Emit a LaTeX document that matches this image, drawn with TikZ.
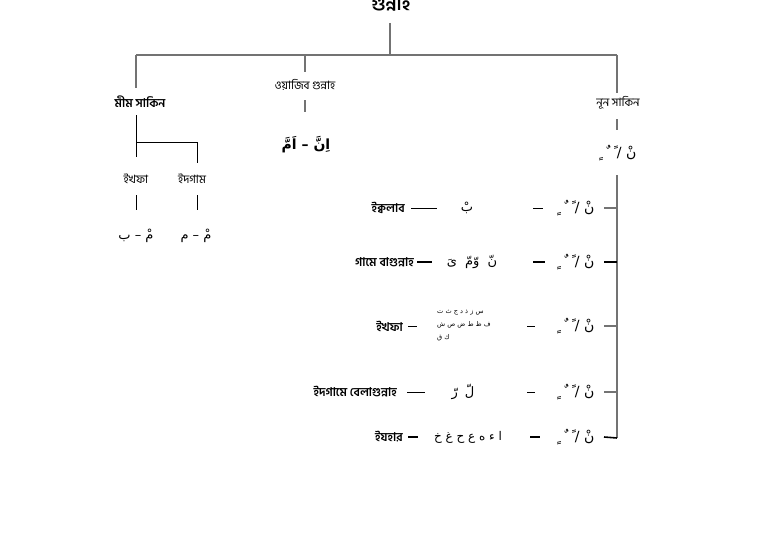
\documentclass[tikz,border=0pt]{standalone}
\usepackage{fontspec}
\TeXXeTstate=1
\newfontfamily\bn[Script=Bengali]{Hind Siliguri}
\newfontfamily\ar[Script=Arabic]{DejaVu Sans}
\definecolor{treegray}{RGB}{115,115,115}
\newcommand{\nuntxt}{\beginR نْ / ً\hspace{3pt} ٌ\hspace{3pt} ٍ\endR}
\tikzset{
  tree/.style={draw=treegray, line width=1.4pt},
  thinl/.style={draw=black, line width=0.8pt},
  dashl/.style={draw=black, line width=0.9pt},
  dashb/.style={draw=black, line width=1.6pt},
  bnl/.style={font=\bn\fontsize{11.5}{13}\selectfont, inner sep=0pt},
  bnb/.style={font=\bn\bfseries\fontsize{12}{14}\selectfont, inner sep=0pt},
  arl/.style={font=\ar\fontsize{13}{15}\selectfont, inner sep=0pt},
  arn/.style={font=\ar\fontsize{14}{16}\selectfont, inner sep=0pt},
  ars/.style={font=\ar\fontsize{6.6}{13}\selectfont, inner sep=0pt, align=left},
}
\begin{document}
\begin{tikzpicture}[x=1pt,y=-1pt]
\useasboundingbox (0,0) rectangle (768,543);
% top
\node[font=\bn\bfseries\fontsize{19}{21}\selectfont, inner sep=0pt] (title) at (391,4) {গুন্নাহ};
\coordinate (tt) at (390,23);
\coordinate (tb) at (390,55);
\coordinate (lb) at (136,55);
\coordinate (mb) at (305,55);
\coordinate (rb) at (617,55);
\draw[tree] (tt) -- (tb);
\draw[tree] (lb) -- (rb);
% left: mim sakin
\node[bnb] (mim) at (140,102) {মীম সাকিন};
\coordinate (lbe) at (136,88);
\draw[tree] (lb) -- (lbe);
\coordinate (m1) at (136,115);
\coordinate (m2) at (136,157);
\coordinate (mh) at (136,142);
\coordinate (mr1) at (197,142);
\coordinate (mr2) at (197,163);
\draw[thinl] (m1) -- (m2);
\draw[thinl] (mh) -- (mr1) -- (mr2);
\node[bnl] (ikh) at (136,179) {ইখফা};
\node[bnl] (idg) at (192,179) {ইদগাম};
\coordinate (s1a) at (136,195); \coordinate (s1b) at (136,210);
\coordinate (s2a) at (197,195); \coordinate (s2b) at (197,210);
\draw[thinl] (s1a) -- (s1b);
\draw[thinl] (s2a) -- (s2b);
\node[arl] (mba) at (136,236) {\beginR مْ – ب\endR};
\node[arl] (mma) at (196,236) {\beginR مْ – م\endR};
% middle: wajib ghunnah
\node[bnl] (waj) at (305,85) {ওয়াজিব গুন্নাহ};
\coordinate (w1) at (305,72);
\draw[tree] (mb) -- (w1);
\coordinate (w2) at (305,100); \coordinate (w3) at (305,112);
\draw[tree] (w2) -- (w3);
\node[font=\ar\bfseries\fontsize{14}{16}\selectfont, inner sep=0pt] (wajar) at (306,145) {\beginR اِنَّ – اَمَّ\endR};
% right: nun sakin
\node[bnl] (nun) at (618,103) {নূন সাকিন};
\coordinate (r1) at (617,93);
\draw[tree] (rb) -- (r1);
\coordinate (r2) at (617,119); \coordinate (r3) at (617,130);
\draw[tree] (r2) -- (r3);
\node[arn] (nuntop) at (617,153) {\nuntxt};
\coordinate (v1) at (617,175); \coordinate (v2) at (617,438);
\draw[tree] (v1) -- (v2);
% row 1
\node[bnb, anchor=east] (l1) at (405,208) {ইক্বলাব};
\node[arl] (a1) at (467,208) {\beginR بْ\endR};
\node[arn] (n1) at (575,208) {\nuntxt};
\coordinate (d1a) at (411,208); \coordinate (d1b) at (437,208);
\coordinate (e1a) at (533,208); \coordinate (e1b) at (543,208);
\coordinate (t1) at (604,208);
\draw[dashl] (d1a) -- (d1b);
\draw[dashl] (e1a) -- (e1b);
\draw[tree] (t1) -- (v1 |- t1);
% row 2
\node[bnb, anchor=east] (l2) at (414,262) {গামে বাগুন্নাহ};
\node[arl] (a2) at (472,262) {\beginR نّ\hspace{4pt} وّمّ \hspace{4pt}ىَ\endR};
\node[arn] (n2) at (575,262) {\nuntxt};
\coordinate (d2a) at (417,262); \coordinate (d2b) at (432,262);
\coordinate (e2a) at (533,262); \coordinate (e2b) at (545,262);
\coordinate (t2) at (604,262);
\draw[dashb] (d2a) -- (d2b);
\draw[dashb] (e2a) -- (e2b);
\draw[dashb] (t2) -- (v1 |- t2);
% row 3
\node[bnb, anchor=east] (l3) at (403,326) {ইখফা};
\node[ars, anchor=west] (a3) at (437,325) {\beginR س ز ذ د ج ث ت\endR\\ \beginR ف ظ ط ض ص ش\endR\\ \beginR ك ق\endR};
\node[arn] (n3) at (575,326) {\nuntxt};
\coordinate (d3a) at (408,326); \coordinate (d3b) at (417,326);
\coordinate (e3a) at (527,326); \coordinate (e3b) at (535,326);
\coordinate (t3) at (604,326);
\draw[dashl] (d3a) -- (d3b);
\draw[dashl] (e3a) -- (e3b);
\draw[tree] (t3) -- (v1 |- t3);
% row 4
\node[bnb, anchor=east] (l4) at (397,392) {ইদগামে বেলাগুন্নাহ};
\node[arl] (a4) at (463,392) {\beginR لّ\hspace{3pt} رّ\endR};
\node[arn] (n4) at (575,392) {\nuntxt};
\coordinate (d4a) at (407,392); \coordinate (d4b) at (425,392);
\coordinate (e4a) at (527,392); \coordinate (e4b) at (535,392);
\coordinate (t4) at (604,392);
\draw[dashl] (d4a) -- (d4b);
\draw[dashl] (e4a) -- (e4b);
\draw[tree] (t4) -- (v1 |- t4);
% row 5
\node[bnb, anchor=east] (l5) at (403,437) {ইযহার};
\node[arl, font=\ar\fontsize{12}{14}\selectfont] (a5) at (468,437) {\beginR ا ء ه ع ح غ خ\endR};
\node[arn] (n5) at (575,437) {\nuntxt};
\coordinate (d5a) at (408,437); \coordinate (d5b) at (418,437);
\coordinate (e5a) at (530,437); \coordinate (e5b) at (540,437);
\coordinate (t5) at (604,437);
\draw[dashb] (d5a) -- (d5b);
\draw[dashb] (e5a) -- (e5b);
\draw[dashb] (t5) -- (v2);
\end{tikzpicture}
\end{document}
